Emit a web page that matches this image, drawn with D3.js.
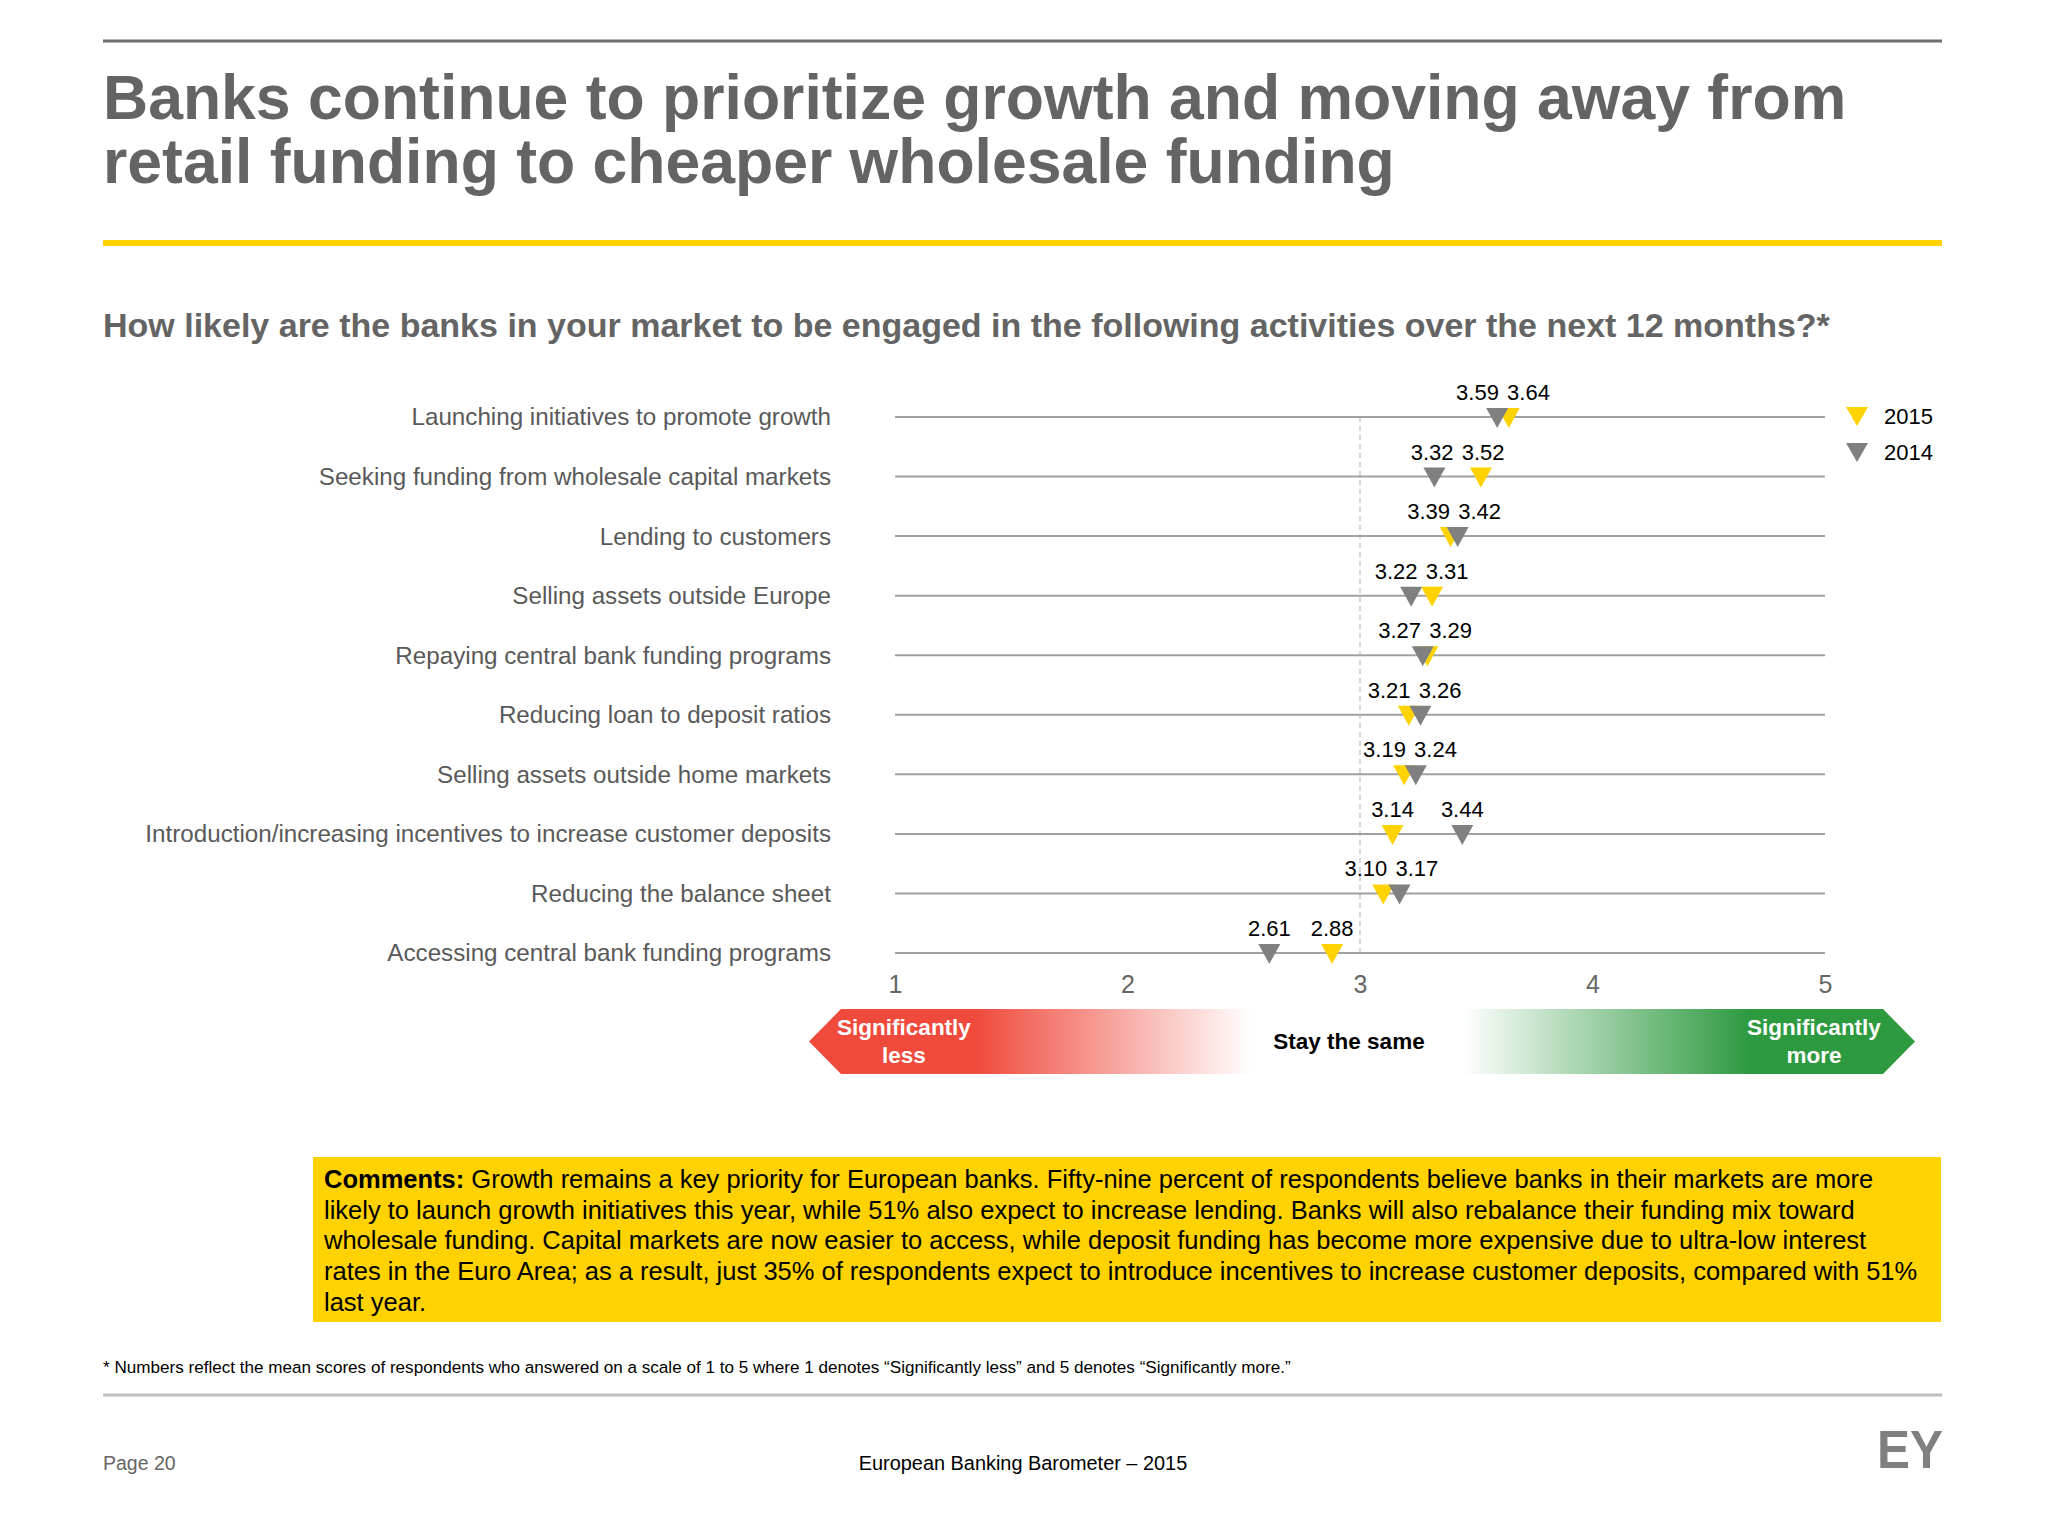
<!DOCTYPE html>
<html>
<head>
<meta charset="utf-8">
<script src="https://cdn.jsdelivr.net/npm/d3@7"></script>
<style>
  body { margin: 0; background: #fff; }
  svg { display: block; font-family: "Liberation Sans", Arial, sans-serif; }
</style>
</head>
<body>
<div id="chart"></div>
<script>
var W = 2048, H = 1536;

var categories = [
  "Launching initiatives to promote growth",
  "Seeking funding from wholesale capital markets",
  "Lending to customers",
  "Selling assets outside Europe",
  "Repaying central bank funding programs",
  "Reducing loan to deposit ratios",
  "Selling assets outside home markets",
  "Introduction/increasing incentives to increase customer deposits",
  "Reducing the balance sheet",
  "Accessing central bank funding programs"
];
var values2015 = [3.64, 3.52, 3.39, 3.31, 3.29, 3.21, 3.19, 3.14, 3.10, 2.88];
var values2014 = [3.59, 3.32, 3.42, 3.22, 3.27, 3.26, 3.24, 3.44, 3.17, 2.61];
var tickValues = [1, 2, 3, 4, 5];
var seriesNames = ["2015", "2014"];

var commentLines = [
  "Growth remains a key priority for European banks. Fifty-nine percent of respondents believe banks in their markets are more",
  "likely to launch growth initiatives this year, while 51% also expect to increase lending. Banks will also rebalance their funding mix toward",
  "wholesale funding. Capital markets are now easier to access, while deposit funding has become more expensive due to ultra-low interest",
  "rates in the Euro Area; as a result, just 35% of respondents expect to introduce incentives to increase customer deposits, compared with 51%",
  "last year."
];

var YELLOW = "#ffd200", GREY = "#808080", TITLE = "#646464";

var svg = d3.select("#chart").append("svg")
  .attr("width", W).attr("height", H);

// header
svg.append("line").attr("x1", 103).attr("x2", 1942).attr("y1", 41).attr("y2", 41)
  .attr("stroke", "#6e6e6e").attr("stroke-width", 3);

svg.append("text").attr("x", 103).attr("y", 119)
  .attr("font-size", 62.5).attr("font-weight", "bold").attr("fill", TITLE)
  .text("Banks continue to prioritize growth and moving away from");
svg.append("text").attr("x", 103).attr("y", 183)
  .attr("font-size", 62.5).attr("font-weight", "bold").attr("fill", TITLE)
  .text("retail funding to cheaper wholesale funding");

svg.append("line").attr("x1", 103).attr("x2", 1942).attr("y1", 243).attr("y2", 243)
  .attr("stroke", YELLOW).attr("stroke-width", 6);

svg.append("text").attr("x", 103).attr("y", 337)
  .attr("font-size", 34).attr("font-weight", "bold").attr("fill", TITLE)
  .text("How likely are the banks in your market to be engaged in the following activities over the next 12 months?*");

// scales
var x = d3.scaleLinear().domain([1, 5]).range([895, 1825]);
var y = d3.scalePoint().domain(categories).range([417, 953]);

// dashed mid line
svg.append("line")
  .attr("x1", x(3)).attr("x2", x(3))
  .attr("y1", y(categories[0])).attr("y2", y(categories[categories.length - 1]))
  .attr("stroke", "#c8c8c8").attr("stroke-width", 1.5).attr("stroke-dasharray", "5,4");

// row lines
svg.append("g").selectAll("line").data(categories).enter().append("line")
  .attr("x1", x(1)).attr("x2", x(5))
  .attr("y1", function(d) { return y(d); }).attr("y2", function(d) { return y(d); })
  .attr("stroke", "#a0a0a0").attr("stroke-width", 2);

// category labels
svg.append("g").selectAll("text").data(categories).enter().append("text")
  .attr("x", 831).attr("y", function(d) { return y(d); })
  .attr("dy", "0.35em").attr("text-anchor", "end")
  .attr("font-size", 24.2).attr("fill", "#595959")
  .text(function(d) { return d; });

// axis
var xAxis = d3.axisBottom(x).tickValues(tickValues).tickFormat(d3.format("d")).tickSize(0);
var axisG = svg.append("g")
  .attr("transform", "translate(0," + 972 + ")")
  .call(xAxis);
axisG.select(".domain").remove();
axisG.selectAll("text").attr("font-size", 25).attr("fill", "#666")
  .attr("font-family", "Liberation Sans, Arial, sans-serif");

// markers
var tri = "M-11,-9 L11,-9 L0,11 Z";
var rows = categories.map(function(c, i) {
  return { cat: c, v15: values2015[i], v14: values2014[i] };
});

var markG = svg.append("g");
markG.selectAll(".m15").data(rows).enter().append("path")
  .attr("class", "m15").attr("d", tri).attr("fill", YELLOW)
  .attr("transform", function(d) { return "translate(" + x(d.v15) + "," + y(d.cat) + ")"; });
markG.selectAll(".m14").data(rows).enter().append("path")
  .attr("class", "m14").attr("d", tri).attr("fill", GREY)
  .attr("transform", function(d) { return "translate(" + x(d.v14) + "," + y(d.cat) + ")"; });

// value labels, pushed apart when close
var minGap = 51;
var labelG = svg.append("g");
rows.forEach(function(d) {
  var lo = Math.min(d.v15, d.v14), hi = Math.max(d.v15, d.v14);
  var xl = x(lo), xh = x(hi);
  if (xh - xl < minGap) {
    var mid = (xl + xh) / 2;
    xl = mid - minGap / 2;
    xh = mid + minGap / 2;
  }
  [[lo, xl], [hi, xh]].forEach(function(p) {
    labelG.append("text")
      .attr("x", p[1]).attr("y", y(d.cat) - 17)
      .attr("text-anchor", "middle").attr("font-size", 22).attr("fill", "#000")
      .text(p[0].toFixed(2));
  });
});

// legend
var legend = svg.append("g").selectAll("g").data(seriesNames).enter().append("g")
  .attr("transform", function(d, i) { return "translate(1857," + (416 + i * 36) + ")"; });
legend.append("path").attr("d", "M-11,-9 L11,-9 L0,10 Z")
  .attr("fill", function(d, i) { return i === 0 ? YELLOW : GREY; });
legend.append("text").attr("x", 27).attr("dy", "0.35em")
  .attr("font-size", 22).attr("fill", "#000")
  .text(function(d) { return d; });

// gradient arrow
var defs = svg.append("defs");
var grad = defs.append("linearGradient").attr("id", "scaleGrad")
  .attr("x1", "0%").attr("x2", "100%").attr("y1", "0%").attr("y2", "0%");
[
  [0, "#ef4a3c", 1], [0.15, "#ef4a3c", 1], [0.40, "#ef4a3c", 0],
  [0.59, "#2e9a40", 0], [0.85, "#2e9a40", 1], [1, "#2e9a40", 1]
].forEach(function(s) {
  grad.append("stop").attr("offset", s[0]).attr("stop-color", s[1]).attr("stop-opacity", s[2]);
});
var bx0 = 809, bx1 = 1915, by0 = 1009, by1 = 1074, byM = (by0 + by1) / 2, tip = 32;
svg.append("path")
  .attr("d", "M" + bx0 + "," + byM + " L" + (bx0 + tip) + "," + by0 + " L" + (bx1 - tip) + "," + by0 +
    " L" + bx1 + "," + byM + " L" + (bx1 - tip) + "," + by1 + " L" + (bx0 + tip) + "," + by1 + " Z")
  .attr("fill", "url(#scaleGrad)");

function twoLine(cx, t1, t2, color) {
  var t = svg.append("text").attr("x", cx).attr("text-anchor", "middle")
    .attr("font-size", 22.5).attr("font-weight", "bold").attr("fill", color);
  t.append("tspan").attr("x", cx).attr("y", 1035).text(t1);
  t.append("tspan").attr("x", cx).attr("y", 1063).text(t2);
}
twoLine(904, "Significantly", "less", "#fff");
twoLine(1814, "Significantly", "more", "#fff");
svg.append("text").attr("x", 1349).attr("y", 1049).attr("text-anchor", "middle")
  .attr("font-size", 22.5).attr("font-weight", "bold").attr("fill", "#000")
  .text("Stay the same");

// comments box
svg.append("rect").attr("x", 313).attr("y", 1157).attr("width", 1628).attr("height", 165)
  .attr("fill", YELLOW);
var ct = svg.append("g");
commentLines.forEach(function(line, i) {
  var t = ct.append("text").attr("x", 324).attr("y", 1188 + i * 30.7)
    .attr("font-size", 25.5).attr("fill", "#000");
  if (i === 0) {
    t.append("tspan").attr("font-weight", "bold").text("Comments:");
    t.append("tspan").text(" " + line);
  } else {
    t.text(line);
  }
});

// footnote
svg.append("text").attr("x", 103).attr("y", 1373)
  .attr("font-size", 17.1).attr("fill", "#000")
  .text("* Numbers reflect the mean scores of respondents who answered on a scale of 1 to 5 where 1 denotes \u201cSignificantly less\u201d and 5 denotes \u201cSignificantly more.\u201d");

svg.append("line").attr("x1", 103).attr("x2", 1942).attr("y1", 1395).attr("y2", 1395)
  .attr("stroke", "#c0c0c0").attr("stroke-width", 3);

// footer
svg.append("text").attr("x", 103).attr("y", 1470)
  .attr("font-size", 19.5).attr("fill", "#666").text("Page 20");
svg.append("text").attr("x", 1023).attr("y", 1470).attr("text-anchor", "middle")
  .attr("font-size", 19.9).attr("fill", "#000").text("European Banking Barometer \u2013 2015");
svg.append("text").attr("x", 1877).attr("y", 1468)
  .attr("font-size", 54).attr("font-weight", "bold").attr("fill", "#808080")
  .attr("textLength", 66).attr("lengthAdjust", "spacingAndGlyphs")
  .text("EY");
</script>
</body>
</html>
